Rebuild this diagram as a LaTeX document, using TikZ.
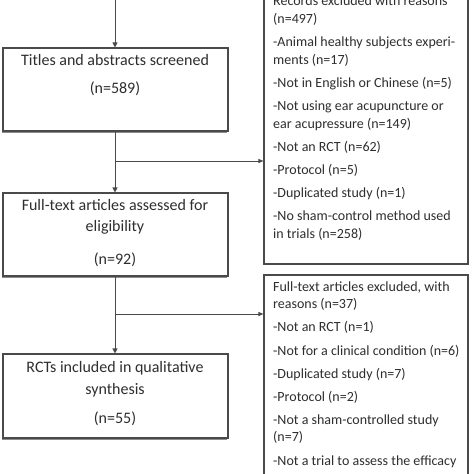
\documentclass[tikz,border=0pt]{standalone}
\usepackage{fontspec}
\setmainfont{Carlito}
\usetikzlibrary{arrows.meta}
\definecolor{ink}{HTML}{2E2E2E}
\definecolor{edge}{HTML}{4A4A4A}
\tikzset{
  leftbox/.style={draw=edge, line width=1.1pt, minimum width=225pt, minimum height=83pt, inner sep=0pt},
  rightbox/.style={draw=edge, line width=1.1pt, minimum width=204pt, inner sep=0pt},
  ltext/.style={anchor=mid, inner sep=0pt, text=ink, font=\fontsize{16}{19}\selectfont},
  rtext/.style={anchor=mid west, inner sep=0pt, text=ink, font=\fontsize{14}{17}\selectfont},
  flow/.style={draw=edge, line width=0.8pt, -{Triangle[length=5pt,width=5pt]}},
  branch/.style={draw=edge, line width=0.6pt, -{Triangle[length=5pt,width=4pt]}}
}
\begin{document}
\begin{tikzpicture}[x=1pt,y=-1pt]
\useasboundingbox (0,0) rectangle (474,474);
\clip (0,0) rectangle (474,474);
\fill[white] (0,0) rectangle (474,474);

% left boxes (with slight shadow)
\foreach \cy/\h in {89.5/83, 234.5/83, 396/84}{
  \draw[black!45, line width=1.2pt] (2.2,\cy-\h/2+1) -- (2.2,\cy+\h/2+1.2) -- (227,\cy+\h/2+1.2);
}
\node[leftbox] (b1) at (115.5,89.5) {};
\node[leftbox] (b2) at (115.5,234.5) {};
\node[leftbox, minimum height=84pt] (b3) at (115.5,396) {};

% right boxes
\node[rightbox, minimum height=284pt] (r1) at (366,122) {};
\node[rightbox, minimum height=225pt] (r2) at (366,387.5) {};

% left texts
\node[ltext] (t1a) at (115,63) {Titles and abstracts screened};
\node[ltext] (t1b) at (115,91) {(n=589)};
\node[ltext] (t2a) at (115,208) {Full-text articles assessed for};
\node[ltext] (t2b) at (115,229.5) {eligibility};
\node[ltext] (t2c) at (115,262) {(n=92)};
\node[ltext] (t3a) at (115,370) {RCTs included in qualitative};
\node[ltext] (t3b) at (115,392.5) {synthesis};
\node[ltext] (t3c) at (115,421) {(n=55)};

% right texts, box 1
\node[rtext] (ra1) at (273,3) {Records excluded with reasons};
\node[rtext] (ra2) at (273,21) {(n=497)};
\node[rtext] (ra3) at (273,44) {-Animal healthy subjects experi-};
\node[rtext] (ra4) at (273,62) {ments (n=17)};
\node[rtext] (ra5) at (273,85) {-Not in English or Chinese (n=5)};
\node[rtext] (ra6) at (273,108) {-Not using ear acupuncture or};
\node[rtext] (ra7) at (273,126) {ear acupressure (n=149)};
\node[rtext] (ra8) at (273,149) {-Not an RCT (n=62)};
\node[rtext] (ra9) at (273,172.5) {-Protocol (n=5)};
\node[rtext] (ra10) at (273,195) {-Duplicated study (n=1)};
\node[rtext] (ra11) at (273,218.5) {-No sham-control method used};
\node[rtext] (ra12) at (273,236.5) {in trials (n=258)};

% right texts, box 2
\node[rtext] (rb1) at (273,289) {Full-text articles excluded, with};
\node[rtext] (rb2) at (273,306.5) {reasons (n=37)};
\node[rtext] (rb3) at (273,329.5) {-Not an RCT (n=1)};
\node[rtext] (rb4) at (273,353) {-Not for a clinical condition (n=6)};
\node[rtext] (rb5) at (273,376) {-Duplicated study (n=7)};
\node[rtext] (rb6) at (273,399.5) {-Protocol (n=2)};
\node[rtext] (rb7) at (273,422) {-Not a sham-controlled study};
\node[rtext] (rb8) at (273,439.5) {(n=7)};
\node[rtext] (rb9) at (273,463) {-Not a trial to assess the efficacy};

% connectors
\coordinate (top) at (115,-2);
\coordinate (j1) at (115,161);
\coordinate (j2) at (115,314);
\draw[flow] (top) -- (top |- b1.north);
\draw[flow] (b1.south -| top) -- (b2.north -| top);
\draw[flow] (b2.south -| top) -- (b3.north -| top);
\draw[branch] (j1) -- (j1 -| r1.west);
\draw[branch] (j2) -- (j2 -| r2.west);
\end{tikzpicture}
\end{document}
